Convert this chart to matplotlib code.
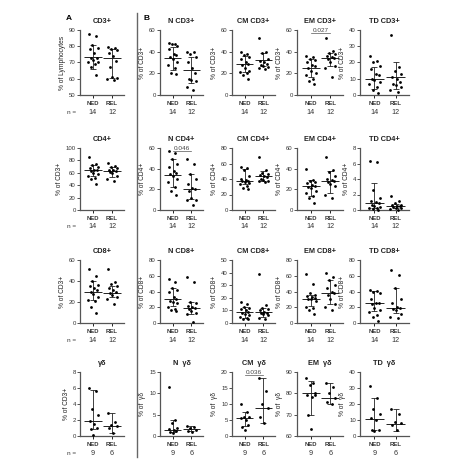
import numpy as np
import matplotlib.pyplot as plt
from matplotlib.lines import Line2D

plt.rcParams['font.family'] = ['Liberation Sans', 'DejaVu Sans']

groups = ["NED", "REL"]
n_row = [(14, 12), (14, 12), (14, 12), (9, 6)]

# --- row 1: CD3+ ---
cd3_ned = [87.5, 86, 80.5, 79, 78, 76, 73, 72.5, 71.5, 70.5, 70, 69, 67, 62]
cd3_rel = [79.5, 79, 78.5, 77.5, 76, 74, 71, 67, 61, 60.5, 60, 59]
cd3_bars = [(73.5, 66, 81), (73, 60.5, 78)]
n_cd3_ned = [48, 47, 47, 45, 42, 38, 37, 35, 33, 30, 28, 25, 20, 19]
n_cd3_rel = [40, 40, 38, 35, 30, 25, 20, 15, 14, 13, 7, 5]
n_cd3_bars = [(34, 23, 44), (23, 11, 35)]
cm_cd3_ned = [40, 38, 37, 35, 33, 30, 29, 28, 25, 22, 21, 20, 18, 15]
cm_cd3_rel = [53, 40, 39, 33, 31, 30, 29, 28, 27, 26, 25, 24]
cm_cd3_bars = [(29, 21, 36), (32, 27, 39)]
em_cd3_ned = [36, 35, 33, 32, 30, 28, 27, 25, 22, 20, 18, 15, 13, 10]
em_cd3_rel = [53, 41, 39, 38, 36, 35, 34, 33, 30, 27, 25, 17]
em_cd3_bars = [(25, 17, 33), (34, 27, 39)]
td_cd3_ned = [24, 21, 20, 18, 16, 13, 12, 10, 9, 8, 7, 5, 3, 1]
td_cd3_rel = [37, 17, 15, 13, 11, 10, 8, 7, 6, 5, 3, 2]
td_cd3_bars = [(10, 3.6, 17), (11, 3.6, 20)]

# --- row 2: CD4+ ---
cd4_ned = [86, 74, 72, 70, 67, 65, 64, 63, 60, 58, 55, 52, 50, 42]
cd4_rel = [76, 71, 70, 68, 65, 64, 63, 62, 60, 55, 50, 47]
cd4_bars = [(64, 55, 73), (63, 53, 69)]
n_cd4_ned = [57, 55, 49, 45, 42, 38, 36, 35, 33, 30, 27, 22, 18, 15]
n_cd4_rel = [49, 45, 35, 30, 25, 21, 20, 18, 12, 10, 10, 5]
n_cd4_bars = [(34, 22, 49), (20, 11, 35)]
cm_cd4_ned = [56, 54, 52, 44, 40, 39, 38, 37, 36, 35, 33, 31, 29, 27]
cm_cd4_rel = [69, 51, 48, 47, 45, 44, 42, 40, 39, 38, 37, 36]
cm_cd4_bars = [(38, 33, 53), (44, 38, 50)]
em_cd4_ned = [40, 29, 28, 27, 26, 24, 23, 22, 21, 18, 16, 14, 12, 7]
em_cd4_rel = [51, 39, 37, 33, 30, 29, 28, 27, 25, 23, 15, 12]
em_cd4_bars = [(23, 14, 29), (28, 16, 38)]
td_cd4_ned = [6.3, 6.2, 2.6, 1.5, 1.2, 1.0, 0.9, 0.6, 0.5, 0.4, 0.3, 0.2, 0.1, 0.05]
td_cd4_rel = [1.8, 1.1, 0.9, 0.7, 0.6, 0.5, 0.5, 0.4, 0.3, 0.2, 0.1, 0.05]
td_cd4_bars = [(0.9, 0.2, 3.5), (0.5, 0.2, 0.8)]

# --- row 3: CD8+ ---
cd8_ned = [51, 45, 40, 36, 35, 33, 31, 30, 28, 25, 22, 21, 15, 10]
cd8_rel = [51, 39, 37, 35, 33, 31, 30, 29, 27, 25, 23, 18]
cd8_bars = [(30, 22, 40), (29, 25, 35)]
n_cd8_ned = [56, 52, 44, 42, 40, 33, 30, 28, 27, 25, 20, 18, 17, 15]
n_cd8_rel = [59, 52, 27, 26, 22, 20, 19, 18, 15, 13, 11, 1]
n_cd8_bars = [(30, 22, 44), (19, 12, 27)]
cm_cd8_ned = [17, 15, 13, 12, 11, 10, 9, 8, 7, 6, 5, 4, 3, 3]
cm_cd8_rel = [39, 14, 12, 11, 10, 9, 8, 8, 7, 6, 4, 3]
cm_cd8_bars = [(8.5, 4, 13), (8.5, 5, 12)]
em_cd8_ned = [62, 49, 38, 36, 34, 33, 32, 31, 30, 28, 20, 19, 16, 11]
em_cd8_rel = [63, 59, 54, 48, 44, 40, 38, 36, 30, 24, 20, 17]
em_cd8_bars = [(31, 21, 36), (38, 24, 54)]
td_cd8_ned = [42, 41, 40, 38, 31, 26, 25, 24, 19, 17, 14, 10, 7, 3]
td_cd8_rel = [67, 61, 44, 30, 25, 20, 19, 18, 16, 12, 8, 6]
td_cd8_bars = [(25, 15, 41), (19, 13, 44)]

# --- row 4: gamma delta ---
gd_ned = [6.0, 5.6, 3.4, 2.6, 1.9, 1.5, 1.0, 0.9, 0.1]
gd_rel = [2.9, 1.7, 1.4, 1.3, 1.0, 0.4]
gd_bars = [(1.9, 0.9, 5.7), (1.3, 0.4, 2.9)]
n_gd_ned = [11.5, 3.8, 3.0, 1.8, 1.6, 1.3, 1.2, 1.0, 0.6]
n_gd_rel = [2.3, 2.0, 1.8, 1.5, 1.2, 1.0]
n_gd_bars = [(1.3, 1.0, 3.8), (1.7, 1.2, 2.3)]
cm_gd_ned = [10, 7.5, 6, 5.8, 5.5, 5, 3.5, 2.8, 1.8]
cm_gd_rel = [18, 14, 10, 8.7, 6, 4]
cm_gd_bars = [(5.5, 3, 7.5), (8.7, 4, 18)]
em_gd_ned = [87, 85, 84, 80, 79, 78.5, 79, 70, 63.5]
em_gd_rel = [85, 83, 80, 78, 76, 75]
em_gd_bars = [(80, 70, 86), (78, 75, 85)]
td_gd_ned = [31, 24, 17, 14, 11, 10, 4, 3.5, 3]
td_gd_rel = [17, 14, 9, 8, 7, 4]
td_gd_bars = [(10.5, 3.5, 24), (7.5, 3, 17)]

# (row, col, title, ylabel, ylim, ytick step, ned, rel, bars, pvalue)
panels = [
    (0, 0, "CD3+", "% of Lymphocytes", (50, 90), 10, cd3_ned, cd3_rel, cd3_bars, None),
    (0, 1, "N CD3+", "% of CD3+", (0, 60), 20, n_cd3_ned, n_cd3_rel, n_cd3_bars, None),
    (0, 2, "CM CD3+", "% of CD3+", (0, 60), 20, cm_cd3_ned, cm_cd3_rel, cm_cd3_bars, None),
    (0, 3, "EM CD3+", "% of CD3+", (0, 60), 20, em_cd3_ned, em_cd3_rel, em_cd3_bars, ("0.027", 57)),
    (0, 4, "TD CD3+", "% of CD3+", (0, 40), 10, td_cd3_ned, td_cd3_rel, td_cd3_bars, None),
    (1, 0, "CD4+", "% of CD3+", (0, 100), 20, cd4_ned, cd4_rel, cd4_bars, None),
    (1, 1, "N CD4+", "% of CD4+", (0, 60), 20, n_cd4_ned, n_cd4_rel, n_cd4_bars, ("0.046", 57)),
    (1, 2, "CM CD4+", "% of CD4+", (0, 80), 20, cm_cd4_ned, cm_cd4_rel, cm_cd4_bars, None),
    (1, 3, "EM CD4+", "% of CD4+", (0, 60), 20, em_cd4_ned, em_cd4_rel, em_cd4_bars, None),
    (1, 4, "TD CD4+", "% of CD4+", (0, 8), 2, td_cd4_ned, td_cd4_rel, td_cd4_bars, None),
    (2, 0, "CD8+", "% of CD3+", (0, 60), 20, cd8_ned, cd8_rel, cd8_bars, None),
    (2, 1, "N CD8+", "% of CD8+", (0, 80), 20, n_cd8_ned, n_cd8_rel, n_cd8_bars, None),
    (2, 2, "CM CD8+", "% of CD8+", (0, 50), 10, cm_cd8_ned, cm_cd8_rel, cm_cd8_bars, None),
    (2, 3, "EM CD8+", "% of CD8+", (0, 80), 20, em_cd8_ned, em_cd8_rel, em_cd8_bars, None),
    (2, 4, "TD CD8+", "% of CD8+", (0, 80), 20, td_cd8_ned, td_cd8_rel, td_cd8_bars, None),
    (3, 0, "γδ", "% of CD3+", (0, 8), 2, gd_ned, gd_rel, gd_bars, None),
    (3, 1, "N  γδ", "% of  γδ", (0, 15), 5, n_gd_ned, n_gd_rel, n_gd_bars, None),
    (3, 2, "CM  γδ", "% of  γδ", (0, 20), 5, cm_gd_ned, cm_gd_rel, cm_gd_bars, ("0.036", 19)),
    (3, 3, "EM  γδ", "% of  γδ", (60, 90), 10, em_gd_ned, em_gd_rel, em_gd_bars, None),
    (3, 4, "TD  γδ", "% of  γδ", (0, 40), 10, td_gd_ned, td_gd_rel, td_gd_bars, None),
]

W, H = 474, 463
col_l = [80, 160, 232, 297, 360]
col_r = [124, 203, 275, 343, 409]
row_t = [30, 148, 260, 372]
row_b = [95, 210, 323, 436]

jit = np.array([-0.22, 0.14, -0.05, 0.24, -0.18, 0.06, 0.2, -0.12, 0.0, 0.25, -0.25, 0.1, -0.08, 0.17])
ink = "#222222"

fig = plt.figure(figsize=(W / 100, H / 100), dpi=100)

for r, c, title, ylab, ylim, step, ned, rel, bars, pval in panels:
    ax = fig.add_axes([col_l[c] / W, 1 - row_b[r] / H,
                       (col_r[c] - col_l[c]) / W, (row_b[r] - row_t[r]) / H])
    for gi, vals in enumerate([ned, rel]):
        x0 = gi + 1
        vals = np.array(vals)
        ax.plot(x0 + jit[:len(vals)], vals, "o", color="black", ms=2.0, mew=0, clip_on=False, zorder=3)
        med, lo, hi = bars[gi]
        ax.errorbar([x0], [med], yerr=[[med - lo], [hi - med]], color=ink, lw=0.6,
                    capsize=2.5, capthick=0.6, zorder=2)
        ax.hlines(med, x0 - 0.45, x0 + 0.45, color=ink, lw=0.7, zorder=2)
    if pval:
        txt, yp = pval
        ax.plot([1, 2], [yp, yp], color="#555555", lw=0.5, clip_on=False)
        ax.text(1.5, yp, txt, ha="center", va="bottom", fontsize=4.6, color="#444444")
    ax.set_xlim(0.32, 2.63)
    ax.set_ylim(*ylim)
    ax.set_yticks(np.arange(ylim[0], ylim[1] + step / 2, step))
    ax.set_xticks([1, 2])
    ax.set_xticklabels(groups, fontsize=4.3, fontweight="bold", color="#333333")
    ax.tick_params(axis="y", labelsize=4.3, length=2, width=0.6, pad=1, colors="#333333")
    ax.tick_params(axis="x", length=2, width=0.6, pad=2)
    for s in ["top", "right"]:
        ax.spines[s].set_visible(False)
    for s in ["left", "bottom"]:
        ax.spines[s].set_color("#555555")
        ax.spines[s].set_linewidth(0.9)
    ax.set_title(title, fontsize=5.3, fontweight="bold", pad=5, color="#222222")
    ax.set_ylabel(ylab, fontsize=4.8, labelpad=2, color="#222222")
    n1, n2 = n_row[r]
    for gi, nv in enumerate([n1, n2]):
        ax.text(gi + 1, -0.27, str(nv), transform=ax.get_xaxis_transform(),
                ha="center", va="center", fontsize=5.2, color="#333333")
    if c == 0:
        ax.text(-0.2, -0.27, "n =", transform=ax.transAxes, ha="center", va="center",
                fontsize=4.6, color="#333333")

fig.text(66 / W, 1 - 19 / H, "A", fontsize=6, fontweight="bold", va="center")
fig.text(143 / W, 1 - 19 / H, "B", fontsize=6, fontweight="bold", va="center")
fig.add_artist(Line2D([137 / W, 137 / W], [1 - 13 / H, 1 - 457 / H], color="#666666", lw=1.0))

fig.savefig("out.png", dpi=100)
